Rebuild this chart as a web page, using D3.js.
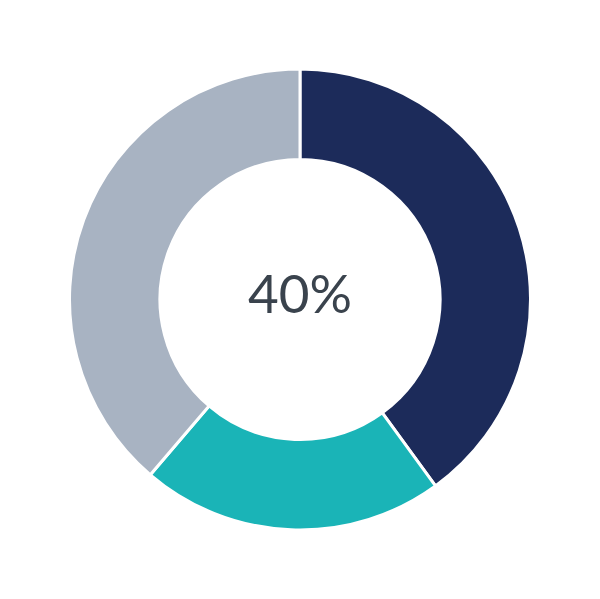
<!DOCTYPE html>
<html><head><meta charset="utf-8">
<script src="https://cdn.jsdelivr.net/npm/d3@7"></script>
<style>html,body{margin:0;padding:0;background:#fff;}</style>
</head><body>
<svg id="chart" width="600" height="599"></svg>
<script>
const categories = ["A", "B", "C"];
const values = [40, 21.25, 38.75];
const colors = ["#1c2b5a", "#1ab4b7", "#a8b3c2"];
const centerLabel = "40%";

const svg = d3.select("#chart");
const g = svg.append("g").attr("transform", "translate(300,299.5)");
const pie = d3.pie().sort(null).value(d => d)(values);
const arc = d3.arc().innerRadius(140).outerRadius(230.5);
g.selectAll("path").data(pie).join("path")
  .attr("d", arc)
  .attr("fill", (d, i) => colors[i])
  .attr("stroke", "#fff")
  .attr("stroke-width", 3);
g.append("text").text(centerLabel)
  .attr("text-anchor", "middle").attr("y", 13.5)
  .attr("font-family", "Lato, sans-serif").attr("font-size", 53)
  .attr("font-weight", 400)
  .attr("fill", "#3a434d");
</script>
</body></html>
